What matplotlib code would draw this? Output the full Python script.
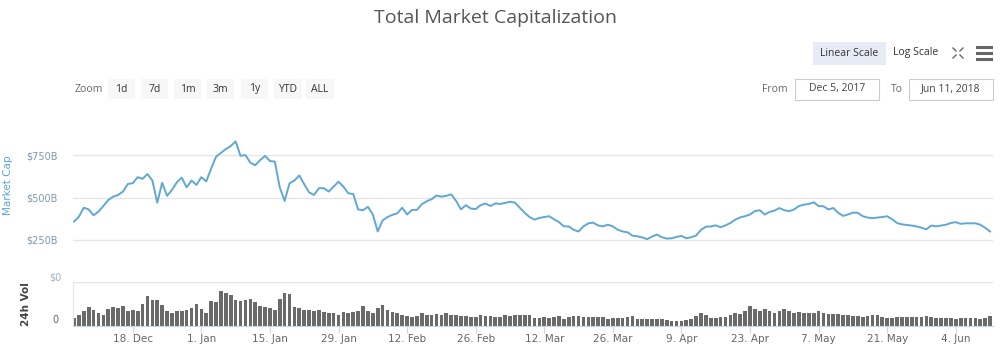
import matplotlib
matplotlib.use("Agg")
import matplotlib.pyplot as plt
import pandas as pd
from matplotlib.patches import Rectangle

# daily total market cap, $B, from 6 Dec 2017 to 11 Jun 2018
market_cap = [
    358, 387, 440, 430, 395, 417, 450, 485, 505, 515,
    535, 580, 584, 620, 610, 638, 600, 470, 587, 510,
    544, 590, 617, 560, 600, 574, 620, 595, 670, 740,
    763, 785, 803, 830, 745, 750, 705, 690, 720, 745,
    715, 711, 560, 480, 584, 600, 630, 578, 530, 515,
    555, 555, 535, 564, 593, 564, 525, 520, 430, 425,
    445, 400, 300, 365, 385, 398, 407, 440, 400, 427,
    427, 460, 478, 490, 512, 505, 510, 519, 480, 430,
    455, 435, 432, 455, 465, 450, 465, 462, 468, 475,
    470, 440, 410, 385, 370, 380, 385, 390, 372, 355,
    330, 330, 310, 300, 330, 348, 352, 335, 330, 340,
    330, 310, 300, 295, 275, 272, 265, 255, 270, 282,
    266, 258, 260, 268, 274, 260, 266, 276, 310, 328,
    330, 336, 325, 336, 350, 370, 383, 390, 400, 420,
    425, 400, 415, 423, 438, 425, 420, 430, 450, 458,
    462, 472, 450, 448, 430, 438, 410, 392, 400, 411,
    410, 390, 382, 378, 382, 385, 390, 372, 350, 342,
    338, 335, 330, 322, 313, 335, 330, 335, 340, 350,
    355, 345, 348, 348, 348, 340, 322, 300,
]

# daily 24h volume, $B
volume = [
    15.2, 20.0, 26.4, 35.2, 28.8, 24.0, 20.8, 30.4, 35.2, 32.0,
    36.8, 28.0, 28.8, 27.2, 40.0, 54.4, 46.4, 48.0, 38.4, 27.2,
    23.2, 27.2, 28.0, 28.8, 33.6, 40.0, 30.4, 24.0, 44.8, 44.0,
    64.0, 60.8, 56.0, 48.0, 45.6, 46.4, 49.6, 43.2, 36.8, 35.2,
    32.0, 29.6, 49.6, 59.2, 57.6, 35.2, 32.0, 29.6, 28.8, 28.0,
    28.8, 24.8, 24.0, 24.0, 20.8, 25.6, 24.0, 24.8, 26.4, 36.0,
    26.4, 23.2, 32.0, 37.6, 28.8, 24.8, 24.0, 19.2, 17.6, 16.8,
    18.4, 23.2, 20.8, 20.8, 21.6, 20.8, 23.2, 20.0, 20.0, 18.4,
    17.6, 16.8, 16.8, 19.2, 17.6, 17.6, 16.8, 16.8, 19.2, 17.6,
    19.2, 20.0, 19.2, 20.0, 15.2, 15.2, 16.0, 15.2, 16.0, 17.6,
    13.6, 16.8, 17.6, 17.6, 16.8, 16.8, 16.8, 16.8, 16.8, 13.6,
    14.4, 15.2, 15.2, 16.8, 17.6, 13.6, 12.0, 12.8, 12.8, 13.6,
    13.6, 10.4, 8.8, 9.6, 9.6, 11.2, 13.6, 17.6, 24.0, 20.0,
    15.2, 15.2, 16.0, 16.8, 19.2, 23.2, 21.6, 26.4, 36.8, 30.4,
    27.2, 30.4, 28.0, 24.0, 26.4, 30.4, 26.4, 24.0, 24.8, 23.2,
    23.2, 24.0, 28.0, 24.0, 22.4, 21.6, 21.6, 20.8, 20.0, 17.6,
    17.6, 16.8, 17.6, 19.2, 20.0, 16.8, 14.4, 15.2, 16.0, 16.8,
    16.8, 16.8, 16.8, 16.8, 17.6, 16.0, 15.2, 15.2, 15.2, 14.4,
    13.6, 15.2, 15.2, 15.2, 14.4, 13.6, 15.2, 17.6,
]

cap_ticks = [250, 500, 750]
cap_tick_labels = ["$250B", "$500B", "$750B"]
date_ticks = ["2017-12-18", "2018-01-01", "2018-01-15", "2018-01-29",
              "2018-02-12", "2018-02-26", "2018-03-12", "2018-03-26",
              "2018-04-09", "2018-04-23", "2018-05-07", "2018-05-21",
              "2018-06-04"]
zoom_buttons = ["1d", "7d", "1m", "3m", "1y", "YTD", "ALL"]

dates = pd.date_range("2017-12-06", periods=len(market_cap), freq="D")
t0 = pd.Timestamp("2017-12-05")
xlim = (t0 + pd.Timedelta(days=0.8), t0 + pd.Timedelta(days=188.6))

plt.rcParams["font.family"] = ["DejaVu Sans"]
ui_font = ["Open Sans", "DejaVu Sans"]

W, H = 1000, 347
fig = plt.figure(figsize=(W / 100, H / 100), dpi=100)


def fx(px):
    return px / W


def fy(py):
    return 1 - py / H


# ---- header ----
fig.text(fx(496), fy(18), "Total Market Capitalization", ha="center", va="center",
         fontsize=14, color="#555555", family=ui_font)

fig.patches.append(Rectangle((fx(813), fy(65)), fx(73), 23 / H, transform=fig.transFigure,
                             facecolor="#e6ebf5", edgecolor="none"))
fig.text(fx(849), fy(53), "Linear Scale", ha="center", va="center", fontsize=7.5,
         color="#333333", family=ui_font)
fig.text(fx(916), fy(53), "Log Scale", ha="center", va="center", fontsize=7.5,
         color="#333333", family=ui_font)

# fullscreen icon: four corner strokes
cx, cy = 958, 53
for sx in (-1, 1):
    for sy in (-1, 1):
        fig.add_artist(plt.Line2D([fx(cx + sx * 2), fx(cx + sx * 5)],
                                  [fy(cy + sy * 2), fy(cy + sy * 5)],
                                  transform=fig.transFigure, color="#666666", lw=1.0))
# menu icon
for yy in (47, 53, 59):
    fig.add_artist(plt.Line2D([fx(977), fx(991)], [fy(yy), fy(yy)],
                              transform=fig.transFigure, color="#666666", lw=2.2))

# zoom buttons
fig.text(fx(75), fy(89), "Zoom", ha="left", va="center", fontsize=7.5,
         color="#666666", family=ui_font)
btn_left = [108, 141, 174, 207, 241, 274, 306]
btn_w = [27, 27, 27, 27, 27, 28, 28]
for lbl, bx, bw in zip(zoom_buttons, btn_left, btn_w):
    fig.patches.append(Rectangle((fx(bx), fy(99)), fx(bw), 20 / H, transform=fig.transFigure,
                                 facecolor="#f7f7f7", edgecolor="none"))
    fig.text(fx(bx + bw / 2), fy(89), lbl, ha="center", va="center", fontsize=7.5,
             color="#333333", family=ui_font)

# date range inputs
fig.text(fx(775), fy(89), "From", ha="center", va="center", fontsize=7.5,
         color="#666666", family=ui_font)
fig.text(fx(897), fy(89), "To", ha="center", va="center", fontsize=7.5,
         color="#666666", family=ui_font)
for bx, txt in ((795, "Dec 5, 2017"), (909, "Jun 11, 2018")):
    fig.patches.append(Rectangle((fx(bx), fy(100)), fx(84), 21 / H, transform=fig.transFigure,
                                 facecolor="white", edgecolor="#cccccc", lw=0.8))
    fig.text(fx(bx + 42), fy(89), txt, ha="center", va="center", fontsize=7.5,
             color="#444444", family=ui_font)

# ---- market cap panel ----
ax = fig.add_axes([fx(73), fy(250), fx(920), 115 / H])
ax.plot(dates, market_cap, color="#5fa8d3", lw=1.4)
ax.set_xlim(xlim)
ax.set_ylim(191, 868)
ax.set_yticks(cap_ticks)
ax.set_yticklabels(cap_tick_labels)
ax.tick_params(axis="y", length=0, pad=11, labelsize=7, labelcolor="#7f99ae")
ax.set_xticks([])
ax.grid(axis="y", color="#e6e6e6", lw=1)
for s in ax.spines.values():
    s.set_visible(False)
fig.text(fx(8), fy(185), "Market Cap", rotation=90, ha="center", va="center",
         fontsize=7.5, color="#5aa7d7")

# ---- volume panel ----
vx = fig.add_axes([fx(73), fy(326), fx(920), 44 / H])
vx.bar(dates, volume, width=0.75, color="#6a6a6a", edgecolor="none")
vx.set_xlim(xlim)
vx.set_ylim(0, 80)
vx.set_yticks([])
vx.axhline(80, color="#e6e6e6", lw=1)
for name, s in vx.spines.items():
    s.set_visible(name in ("bottom", "left"))
vx.spines["bottom"].set_color("#ccd6eb")
vx.spines["left"].set_color("#e6e6e6")
tick_dates = pd.to_datetime(date_ticks)
vx.set_xticks(tick_dates)
vx.set_xticklabels([f"{d.day}. {d.strftime('%b')}" for d in tick_dates])
vx.tick_params(axis="x", length=5, color="#ccd6eb", labelsize=7.5, labelcolor="#666666", pad=1)
fig.text(fx(55), fy(277), "$0", ha="center", va="center", fontsize=7, color="#9db3c4")
fig.text(fx(55), fy(320), "0", ha="center", va="center", fontsize=7, color="#666666")
fig.text(fx(26), fy(304), "24h Vol", rotation=90, ha="center", va="center",
         fontsize=7.5, color="#444444", fontweight="bold")

fig.savefig("out.png", dpi=100, facecolor="white")
